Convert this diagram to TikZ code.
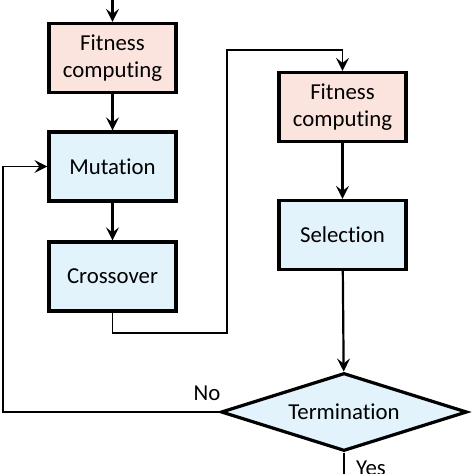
\documentclass[tikz,border=0pt]{standalone}
\usepackage{fontspec}
\setmainfont{Carlito}[Ligatures=NoCommon]
\usepackage{xcolor}
\usetikzlibrary{positioning}
\usetikzlibrary{arrows.meta}
\usetikzlibrary{shapes.geometric}
\definecolor{fitpink}{RGB}{251,228,221}
\definecolor{stepblue}{RGB}{226,243,252}
\tikzset{box/.style={draw,line width=1.6pt,minimum width=63.5pt,minimum height=34.5pt,align=center,inner sep=2pt}}
\tikzset{conn/.style={line width=1.1pt,-{Stealth[length=6.5pt,width=6.5pt,inset=2.5pt]}}}
\tikzset{wire/.style={line width=0.9pt}}

\begin{document}
\begin{tikzpicture}[x=0.5pt,y=-0.5pt,font=\fontsize{11.4}{13.5}\selectfont] %1 unit = 1 px of the reference
            \useasboundingbox (0,0) rectangle (474,474);
            \node[box,fill=fitpink] (fit1) at (112.5,58) {Fitness\\computing};
            \node[box,fill=stepblue] (mut) at (112.5,166.5) {Mutation};
            \node[box,fill=stepblue] (cross) at (112.5,276.5) {Crossover};
            \node[box,fill=fitpink] (fit2) at (342.5,107) {Fitness\\computing};
            \node[box,fill=stepblue] (sel) at (342.5,235) {Selection};
            \node[draw,line width=1.6pt,fill=stepblue,shape=diamond,aspect=3.15,minimum width=123pt,minimum height=39pt,inner sep=0pt] (term) at (344,412) {Termination};
            \coordinate (start) at (112.5,0);
            \coordinate (c1) at (227,333);
            \coordinate (c2) at (227,50);
            \coordinate (c3) at (3,412);
            \coordinate (end) at (344,480);
            \draw[conn] (start)--(fit1);
            \draw[conn] (fit1)--(mut);
            \draw[conn] (mut)--(cross);
            \draw[wire,-{Stealth[length=6.5pt,width=6.5pt,inset=2.5pt]}] (cross.south) |- (c1) -- (c2) -| (fit2.north);
            \draw[conn] (fit2)--(sel);
            \draw[conn] (sel)--(term);
            \draw[wire,-{Stealth[length=6.5pt,width=6.5pt,inset=2.5pt]}] (term.west) -- (c3) |- (mut.west);
            \draw[wire] (term.south) -- (end);
            \node (no) at (207,393) {No};
            \node (yes) at (371,468) {Yes};
        \end{tikzpicture}
\end{document}
